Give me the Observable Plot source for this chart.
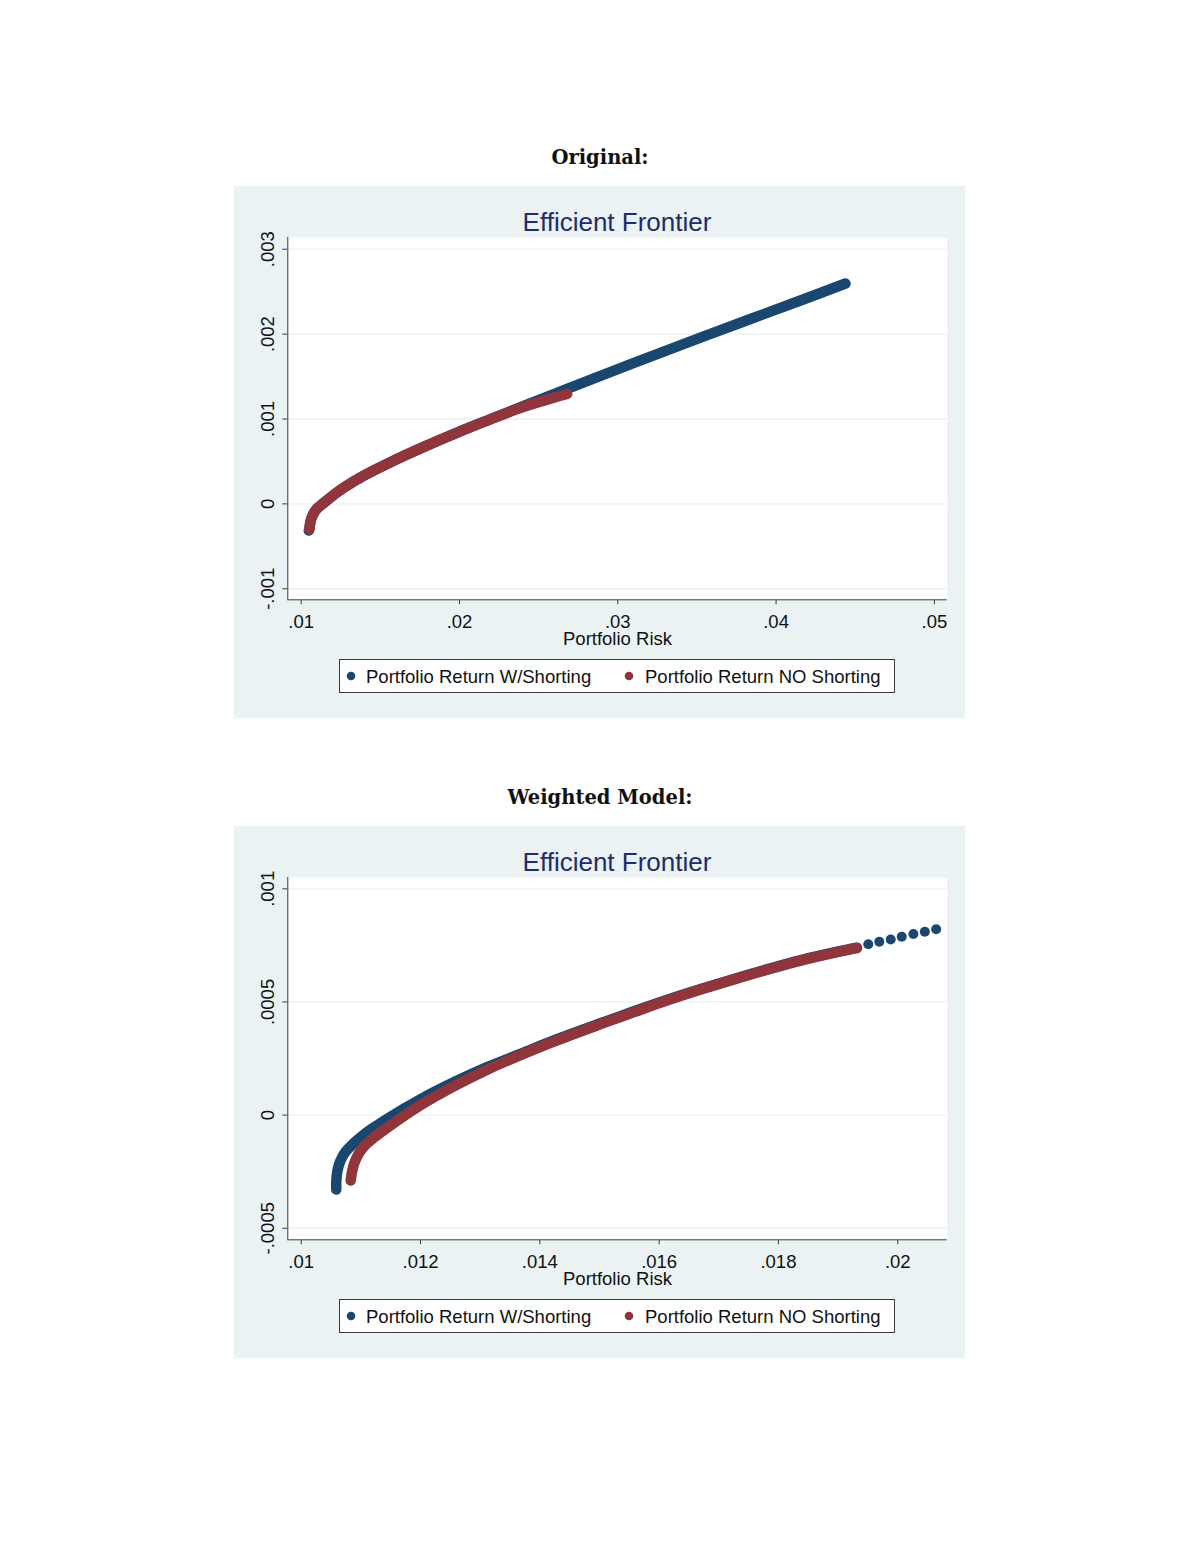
<!DOCTYPE html>
<html>
<head>
<meta charset="utf-8">
<script src="https://cdn.jsdelivr.net/npm/d3@7"></script>
<script src="https://cdn.jsdelivr.net/npm/@observablehq/plot@0.6"></script>
<style>
  html, body { margin: 0; padding: 0; background: #ffffff; }
  #page { position: relative; width: 1200px; height: 1553px; background: #ffffff; overflow: hidden; }
  .panel { position: absolute; left: 234px; width: 731px; height: 532px; background: #eaf2f3; }
  .panel > .chart { position: absolute; left: 0; top: 0; }
  .panel > svg.overlay { position: absolute; left: 0; top: 0; }
  svg.headings { position: absolute; left: 0; top: 0; }
</style>
</head>
<body>
<div id="page">
  <svg class="headings" width="1200" height="1553">
    <text x="600" y="163.5" text-anchor="middle" font-family="DejaVu Serif" font-weight="bold" font-size="19.5" fill="#111">Original:</text>
    <text x="600" y="803.5" text-anchor="middle" font-family="DejaVu Serif" font-weight="bold" font-size="19.5" fill="#111">Weighted Model:</text>
  </svg>
  <div class="panel" id="p1" style="top:186px"><div class="chart"></div></div>
  <div class="panel" id="p2" style="top:826px"><div class="chart"></div></div>
</div>
<script>
// ---------- Original model ----------
const origShortRisk = [0.010480, 0.010512, 0.010587, 0.010745, 0.010998, 0.011409, 0.012040, 0.012691, 0.013955, 0.015641, 0.017745, 0.019855, 0.021958, 0.024062, 0.025433, 0.026803, 0.028907, 0.032066, 0.035224, 0.038383, 0.041541, 0.044384];
const origShortReturn = [-0.000314, -0.000302, -0.000208, -0.000126, -0.0000553, 0.0000094, 0.000104, 0.000192, 0.000333, 0.000491, 0.000671, 0.000840, 0.000998, 0.001154, 0.001255, 0.001356, 0.001509, 0.001735, 0.001958, 0.002178, 0.002396, 0.002596];
const origNoShortRisk = [0.010512, 0.010587, 0.010745, 0.010998, 0.011409, 0.012040, 0.012691, 0.013955, 0.015641, 0.017745, 0.019855, 0.021958, 0.024062, 0.025433, 0.026803];
const origNoShortReturn = [-0.000302, -0.000208, -0.000126, -0.0000553, 0.0000094, 0.000104, 0.000192, 0.000333, 0.000491, 0.000671, 0.000840, 0.000996, 0.001144, 0.001222, 0.001294];
const origXTicks = [0.01, 0.02, 0.03, 0.04, 0.05];
const origXLabels = [".01", ".02", ".03", ".04", ".05"];
const origYTicks = [-0.001, 0, 0.001, 0.002, 0.003];
const origYLabels = ["-.001", "0", ".001", ".002", ".003"];

// ---------- Weighted model ----------
const wShortRisk = [0.010588, 0.010588, 0.010603, 0.010635, 0.010686, 0.010753, 0.010837, 0.010946, 0.011081, 0.011266, 0.011445, 0.012005, 0.012565, 0.013126, 0.013686, 0.014245, 0.015030, 0.015590, 0.016151, 0.016711, 0.017271, 0.017832, 0.018392, 0.018951, 0.019316];
const wShortReturn = [-0.000329, -0.000292, -0.000252, -0.000217, -0.000186, -0.000159, -0.000135, -0.000109, -0.0000797, -0.0000465, -0.0000155, 0.0000709, 0.000146, 0.000213, 0.000272, 0.000331, 0.000407, 0.000460, 0.000511, 0.000558, 0.000603, 0.000646, 0.000686, 0.000720, 0.000740];
const wShortTailRisk = [0.019506, 0.019691, 0.019882, 0.020067, 0.020262, 0.020454, 0.020644];
const wShortTailReturn = [0.000755, 0.000766, 0.000776, 0.000788, 0.000800, 0.000810, 0.000821];
const wNoShortRisk = [0.010829, 0.010854, 0.010896, 0.010963, 0.011064, 0.011198, 0.011445, 0.012005, 0.012565, 0.013126, 0.013686, 0.014245, 0.015030, 0.015590, 0.016151, 0.016711, 0.017271, 0.017832, 0.018392, 0.018951, 0.019316];
const wNoShortReturn = [-0.000289, -0.000248, -0.000208, -0.000171, -0.000135, -0.000104, -0.0000554, 0.0000443, 0.000128, 0.000202, 0.000266, 0.000326, 0.000403, 0.000456, 0.000508, 0.000556, 0.000601, 0.000644, 0.000684, 0.000718, 0.000738];
const wXTicks = [0.01, 0.012, 0.014, 0.016, 0.018, 0.02];
const wXLabels = [".01", ".012", ".014", ".016", ".018", ".02"];
const wYTicks = [-0.0005, 0, 0.0005, 0.001];
const wYLabels = ["-.0005", "0", ".0005", ".001"];

const seriesNames = ["Portfolio Return W/Shorting", "Portfolio Return NO Shorting"];
const seriesColors = ["#1a476f", "#90353b"];
const chartTitle = "Efficient Frontier";
const xTitle = "Portfolio Risk";

const zip = (xs, ys) => xs.map((x, i) => ({x, y: ys[i]}));

function drawPanel(panelId, cfg) {
  const W = 731, H = 480;
  const shortData = zip(cfg.shortRisk, cfg.shortReturn);
  const noShortData = zip(cfg.noShortRisk, cfg.noShortReturn);
  const tailData = cfg.tailRisk ? zip(cfg.tailRisk, cfg.tailReturn) : [];
  const x0 = cfg.xDomain[0], y0 = cfg.yDomain[0];
  const lineOpts = {x: "x", y: "y", strokeWidth: 10.5, strokeLinecap: "round", strokeLinejoin: "round", curve: "catmull-rom"};
  const chart = Plot.plot({
    width: W,
    height: H,
    marginLeft: 53.3,
    marginTop: 51,
    marginRight: 18.3,
    marginBottom: H - 413.3,
    style: {background: "transparent", fontFamily: "'Liberation Sans', Arial, sans-serif", fontSize: "18.5px", color: "#3a3a3a", overflow: "visible"},
    x: {domain: cfg.xDomain, ticks: cfg.xTicks, tickSize: 5, tickFormat: () => "", label: null},
    y: {domain: cfg.yDomain, ticks: cfg.yTicks, tickSize: 5, tickFormat: () => "", label: null},
    marks: [
      Plot.frame({fill: "white", stroke: "none"}),
      Plot.ruleY(cfg.yTicks, {y: d => d, stroke: "#eaf2f3", strokeWidth: 1.3}),
      Plot.ruleX([x0], {stroke: "#3a3a3a", strokeWidth: 1}),
      Plot.ruleY([y0], {stroke: "#3a3a3a", strokeWidth: 1}),
      Plot.line(shortData, {...lineOpts, stroke: seriesColors[0]}),
      Plot.dot(tailData, {x: "x", y: "y", r: 5, fill: seriesColors[0], stroke: "none"}),
      Plot.line(noShortData, {...lineOpts, stroke: seriesColors[1]}),
      Plot.text(cfg.yTicks, {x: x0, y: d => d, text: (d, i) => cfg.yLabels[i], rotate: -90, dx: -20, fontSize: 18.5, fill: "#111", textAnchor: "middle"}),
      Plot.text(cfg.xTicks, {x: d => d, y: y0, text: (d, i) => cfg.xLabels[i], dy: 22.5, fontSize: 18.5, fill: "#111", textAnchor: "middle"}),
      Plot.text([xTitle], {frameAnchor: "bottom", text: d => d, dy: 45.5, fontSize: 18.5, fill: "#111"})
    ]
  });
  const panel = document.getElementById(panelId);
  panel.querySelector(".chart").appendChild(chart);

  // title and legend overlay
  const ns = "http://www.w3.org/2000/svg";
  const ov = document.createElementNS(ns, "svg");
  ov.setAttribute("class", "overlay");
  ov.setAttribute("width", 731);
  ov.setAttribute("height", 532);
  ov.style.fontFamily = "'Liberation Sans', Arial, sans-serif";
  const t = document.createElementNS(ns, "text");
  t.setAttribute("x", 383); t.setAttribute("y", 44.5);
  t.setAttribute("text-anchor", "middle");
  t.setAttribute("font-size", 26);
  t.setAttribute("fill", "#1f2d6b");
  t.textContent = chartTitle;
  ov.appendChild(t);
  const box = document.createElementNS(ns, "rect");
  box.setAttribute("x", 105.5); box.setAttribute("y", 473.5);
  box.setAttribute("width", 555); box.setAttribute("height", 33);
  box.setAttribute("fill", "white"); box.setAttribute("stroke", "#3a3a3a"); box.setAttribute("stroke-width", 1);
  ov.appendChild(box);
  const mx = [117, 395], tx = [132, 411];
  seriesNames.forEach((name, i) => {
    const c = document.createElementNS(ns, "circle");
    c.setAttribute("cx", mx[i]); c.setAttribute("cy", 490);
    c.setAttribute("r", 4.3); c.setAttribute("fill", seriesColors[i]);
    ov.appendChild(c);
    const lt = document.createElementNS(ns, "text");
    lt.setAttribute("x", tx[i]); lt.setAttribute("y", 497);
    lt.setAttribute("font-size", 18.5); lt.setAttribute("fill", "#111");
    lt.textContent = name;
    ov.appendChild(lt);
  });
  panel.appendChild(ov);
}

drawPanel("p1", {
  shortRisk: origShortRisk, shortReturn: origShortReturn,
  noShortRisk: origNoShortRisk, noShortReturn: origNoShortReturn,
  xDomain: [0.009154, 0.05081], yDomain: [-0.00113, 0.003138],
  xTicks: origXTicks, xLabels: origXLabels, yTicks: origYTicks, yLabels: origYLabels
});
drawPanel("p2", {
  shortRisk: wShortRisk, shortReturn: wShortReturn,
  tailRisk: wShortTailRisk, tailReturn: wShortTailReturn,
  noShortRisk: wNoShortRisk, noShortReturn: wNoShortReturn,
  xDomain: [0.009775, 0.020829], yDomain: [-0.000551, 0.00105],
  xTicks: wXTicks, xLabels: wXLabels, yTicks: wYTicks, yLabels: wYLabels
});
</script>
</body>
</html>
